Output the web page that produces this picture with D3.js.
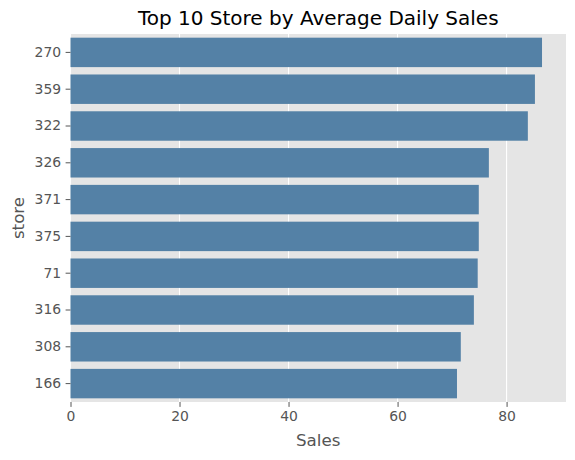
<!DOCTYPE html>
<html><head><meta charset="utf-8">
<script src="https://cdn.jsdelivr.net/npm/d3@7"></script>
<style>body{margin:0;background:#fff;} text{font-family:"DejaVu Sans",sans-serif;}</style>
</head><body><svg id="c" width="575" height="460"></svg>
<script>
const stores = ["270","359","322","326","371","375","71","316","308","166"];
const sales = [86.5, 85.2, 83.9, 76.75, 74.9, 74.9, 74.7, 74.0, 71.6, 70.9];
const xTicks = [0, 20, 40, 60, 80];
const title = "Top 10 Store by Average Daily Sales";

const svg = d3.select("#c");
const m = {l:70.5, r:566, t:34, b:402};
const x = d3.scaleLinear().domain([0, 90.9]).range([m.l, m.r]);
const y = d3.scaleBand().domain(stores).range([m.t, m.b]).paddingInner(0.2).paddingOuter(0.1);

svg.append("rect").attr("x", m.l).attr("y", m.t).attr("width", m.r-m.l).attr("height", m.b-m.t).attr("fill", "#E5E5E5");
svg.append("g").selectAll("line").data(xTicks).join("line")
  .attr("x1", d=>x(d)).attr("x2", d=>x(d)).attr("y1", m.t).attr("y2", m.b)
  .attr("stroke", "#fff").attr("stroke-width", 1.1);

svg.append("g").selectAll("rect").data(stores).join("rect")
  .attr("x", x(0)).attr("y", d=>y(d)).attr("height", y.bandwidth())
  .attr("width", (d,i)=>x(sales[i])-x(0)).attr("fill", "#5481A6");

const xa = svg.append("g").attr("transform", `translate(0,${m.b})`)
  .call(d3.axisBottom(x).tickValues(xTicks).tickSize(4.9).tickPadding(4).tickFormat(d3.format("d")));
const ya = svg.append("g").attr("transform", `translate(${m.l},0)`)
  .call(d3.axisLeft(y).tickSize(4.9).tickPadding(4.5));
[xa, ya].forEach(a => {
  a.select(".domain").remove();
  a.selectAll(".tick line").attr("stroke", "#555555").attr("stroke-width", 1);
  a.selectAll(".tick text").attr("fill", "#555555").attr("font-size", "13.9px").attr("font-family", "DejaVu Sans");
});

svg.append("text").attr("x", (m.l+m.r)/2).attr("y", 446).attr("text-anchor", "middle")
  .attr("font-size", "16.7px").attr("fill", "#555555").text("Sales");
svg.append("text").attr("transform", `translate(24,${(m.t+m.b)/2}) rotate(-90)`).attr("text-anchor", "middle")
  .attr("font-size", "16.7px").attr("fill", "#555555").text("store");
svg.append("text").attr("x", (m.l+m.r)/2).attr("y", 25).attr("text-anchor", "middle")
  .attr("font-size", "20px").attr("fill", "#000").text(title);
</script></body></html>
